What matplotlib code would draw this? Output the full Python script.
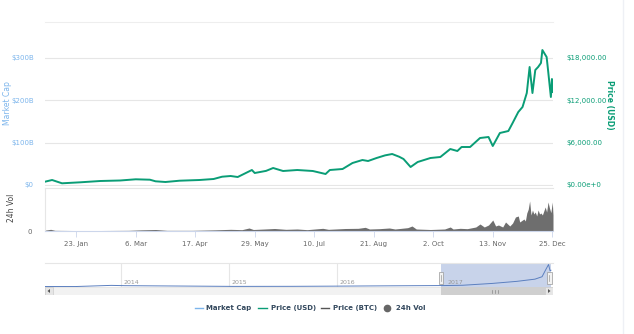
import matplotlib
matplotlib.use("Agg")
import matplotlib.pyplot as plt
from matplotlib.lines import Line2D
from matplotlib.patches import Rectangle, Polygon
import pandas as pd

# --- data --------------------------------------------------------

price_dates = ["2017-01-01", "2017-01-06", "2017-01-13", "2017-01-26", "2017-02-09",
               "2017-02-23", "2017-03-06", "2017-03-16", "2017-03-20", "2017-03-27",
               "2017-04-06", "2017-04-20", "2017-04-30", "2017-05-06", "2017-05-12",
               "2017-05-17", "2017-05-27", "2017-05-29", "2017-06-06", "2017-06-11",
               "2017-06-18", "2017-06-28", "2017-07-09", "2017-07-18", "2017-07-21",
               "2017-07-30", "2017-08-06", "2017-08-13", "2017-08-17", "2017-08-23",
               "2017-08-29", "2017-09-03", "2017-09-08", "2017-09-11", "2017-09-16",
               "2017-09-21", "2017-09-30", "2017-10-07", "2017-10-14", "2017-10-19",
               "2017-10-22", "2017-10-28", "2017-11-04", "2017-11-10", "2017-11-13",
               "2017-11-18", "2017-11-24", "2017-11-27", "2017-12-01", "2017-12-04",
               "2017-12-07", "2017-12-09", "2017-12-11", "2017-12-13", "2017-12-15",
               "2017-12-17", "2017-12-18", "2017-12-21", "2017-12-22", "2017-12-24",
               "2017-12-24 18:00", "2017-12-25 10:00"]
price_usd = [468, 708, 241, 383, 567, 638, 808, 751, 524, 425,
             609, 708, 850, 1176, 1275, 1133, 2125, 1700, 2000, 2409,
             1984, 2125, 1984, 1559, 2125, 2267, 3117, 3542, 3400, 3826,
             4200, 4392, 4000, 3684, 2551, 3259, 3826, 3968, 5101, 4818,
             5385, 5385, 6660, 6802, 5526, 7368, 7652, 8785, 10344, 11053,
             13036, 16721, 13036, 16296, 16721, 17288, 19130, 18138, 16296, 12470,
             15021, 13178]

vol_dates = ["2017-01-01", "2017-01-05", "2017-01-08", "2017-01-20", "2017-02-10",
             "2017-03-01", "2017-03-10", "2017-03-20", "2017-03-28", "2017-04-15",
             "2017-05-01", "2017-05-12", "2017-05-20", "2017-05-25", "2017-05-28",
             "2017-06-05", "2017-06-12", "2017-06-20", "2017-06-28", "2017-07-05",
             "2017-07-16", "2017-07-20", "2017-08-01", "2017-08-10", "2017-08-15",
             "2017-08-18", "2017-08-25", "2017-09-01", "2017-09-05", "2017-09-14",
             "2017-09-17", "2017-09-20", "2017-09-30", "2017-10-10", "2017-10-14",
             "2017-10-16", "2017-10-21", "2017-10-26", "2017-11-01", "2017-11-04",
             "2017-11-07", "2017-11-10", "2017-11-13", "2017-11-15", "2017-11-17",
             "2017-11-20", "2017-11-22", "2017-11-25", "2017-11-27", "2017-11-29",
             "2017-12-01", "2017-12-02", "2017-12-05", "2017-12-06", "2017-12-07",
             "2017-12-08", "2017-12-09", "2017-12-10", "2017-12-11", "2017-12-12",
             "2017-12-13", "2017-12-14", "2017-12-15", "2017-12-16", "2017-12-17",
             "2017-12-18", "2017-12-20", "2017-12-21", "2017-12-22", "2017-12-23",
             "2017-12-24", "2017-12-25", "2017-12-25 12:00"]
vol_usd_b = [0.5, 1.0, 0.4, 0.3, 0.3, 0.4, 0.7, 0.9, 0.4, 0.4,
             0.7, 1.0, 0.8, 1.8, 0.9, 1.2, 1.5, 1.0, 1.2, 0.8,
             1.6, 1.0, 1.5, 1.6, 2.2, 1.2, 1.4, 1.8, 1.2, 2.0,
             3.0, 1.2, 0.9, 1.2, 2.4, 1.2, 1.6, 1.4, 2.4, 4.2,
             2.4, 3.6, 6.6, 3.0, 3.6, 2.4, 5.4, 3.0, 4.8, 8.4,
             9.0, 5.4, 7.2, 6.0, 10.8, 13.0, 18.0, 9.6, 12.6, 10.2,
             11.4, 9.0, 12.6, 10.2, 10.8, 9.6, 14.4, 11.4, 17.4, 13.8,
             11.0, 17.4, 9.6]

nav_dates = ["2013-04-20", "2013-08-01", "2013-11-30", "2014-01-15", "2014-06-01",
             "2015-01-15", "2015-08-01", "2015-12-15", "2016-06-15", "2016-12-31",
             "2017-03-01", "2017-06-10", "2017-09-01", "2017-11-01", "2017-11-25",
             "2017-12-07", "2017-12-17", "2017-12-22", "2017-12-25"]
nav_price = [120, 100, 1100, 850, 620, 230, 280, 430, 700, 960,
             1200, 2800, 4600, 6500, 8600, 14500, 19200, 13800, 14200]

tick_dates = ["2017-01-23", "2017-03-06", "2017-04-17", "2017-05-29", "2017-07-10",
              "2017-08-21", "2017-10-02", "2017-11-13", "2017-12-25"]
tick_labels = ["23. Jan", "6. Mar", "17. Apr", "29. May", "10. Jul",
               "21. Aug", "2. Oct", "13. Nov", "25. Dec"]

price_ticks = [0, 6000, 12000, 18000]
price_tick_labels = ["$0.00e+0", "$6,000.00", "$12,000.00", "$18,000.00"]
cap_ticks = [0, 100, 200, 300]
cap_tick_labels = ["$0", "$100B", "$200B", "$300B"]

years = ["2014", "2015", "2016", "2017"]

# --- style ---------------------------------------------------------

GREEN = "#0a9d76"
BLUE = "#7cb5ec"
NAV_BLUE = "#5b7fbf"
GRID = "#e6e6e6"
GREY_TXT = "#666666"
LEGEND_TXT = "#34495e"

W, H = 634, 334
def fx(px):
    return px / W
def fy(py):
    return 1 - py / H
def dates(lst):
    return pd.to_datetime(lst, format="ISO8601")

plt.rcParams['font.family'] = ['DejaVu Sans']

fig = plt.figure(figsize=(W / 100, H / 100), dpi=100)

x0 = pd.Timestamp("2017-01-01")
x1 = pd.Timestamp("2017-12-25 12:00")

# main price panel
ax = fig.add_axes([fx(45), fy(186), 508 / W, (186 - 22) / H])
ax.plot(dates(price_dates), price_usd, color=GREEN, lw=1.4, zorder=3)
ax.set_xlim(x0, x1)
ax.set_ylim(-142, 23100)
for t in price_ticks:
    ax.axhline(t, color=GRID, lw=0.8, zorder=1)
ax.yaxis.tick_right()
ax.set_yticks(price_ticks)
ax.set_yticklabels(price_tick_labels)
ax.tick_params(axis="y", length=0, pad=10, labelsize=5, labelcolor=GREEN)
ax.set_xticks([])
for s in ["left", "right", "bottom"]:
    ax.spines[s].set_visible(False)
ax.spines["top"].set_color("#eeeeee")
ax.spines["top"].set_linewidth(0.8)

cap = ax.secondary_yaxis("left", functions=(lambda v: v / 60.0, lambda v: v * 60.0))
cap.set_yticks(cap_ticks)
cap.set_yticklabels(cap_tick_labels)
cap.tick_params(length=0, pad=8, labelsize=5, labelcolor=BLUE)
cap.spines["left"].set_visible(False)

fig.text(fx(8), fy(103), "Market Cap", rotation=90, color=BLUE, fontsize=5.5,
         ha="center", va="center")
fig.text(fx(610), fy(105), "Price (USD)", rotation=270, color=GREEN, fontsize=5.5,
         fontweight="bold", ha="center", va="center")

# volume panel
axv = fig.add_axes([fx(45), fy(231), 508 / W, 43 / H])
axv.fill_between(dates(vol_dates), vol_usd_b, 0, color="#6e6e6e", lw=0)
axv.set_xlim(x0, x1)
axv.set_ylim(0, 25.8)
axv.set_yticks([0])
axv.set_yticklabels(["0"])
axv.tick_params(axis="y", length=0, pad=9, labelsize=5, labelcolor=GREY_TXT)
axv.set_xticks(dates(tick_dates))
axv.set_xticklabels(tick_labels)
axv.tick_params(axis="x", length=4, width=0.6, color="#ccd6eb", pad=3,
                labelsize=5, labelcolor=GREY_TXT)
axv.spines["right"].set_visible(False)
for s in ["left", "top"]:
    axv.spines[s].set_color(GRID)
    axv.spines[s].set_linewidth(0.8)
axv.spines["bottom"].set_color("#ccd6eb")
axv.spines["bottom"].set_linewidth(0.8)
fig.text(fx(12), fy(208), "24h Vol", rotation=90, color="#444444", fontsize=5.5,
         ha="center", va="center")

# navigator
nav_x0 = pd.Timestamp("2013-04-20")
nav_x1 = pd.Timestamp("2018-01-01")
axn = fig.add_axes([fx(45), fy(287), 508 / W, 24 / H])
axn.set_xlim(nav_x0, nav_x1)
axn.set_ylim(-300, 20500)
axn.axvspan(pd.Timestamp("2016-12-18"), pd.Timestamp("2017-12-24"),
            color="#c8d3ea", lw=0, zorder=1)
for y in years:
    yt = pd.Timestamp(y + "-01-01")
    axn.axvline(yt, color=GRID, lw=0.8, zorder=0)
    axn.text(yt + pd.Timedelta(days=8), 1500, y, fontsize=4.5, color="#999999",
             ha="left", va="bottom", zorder=2)
axn.plot(dates(nav_dates), nav_price, color=NAV_BLUE, lw=0.7, zorder=3)
axn.set_xticks([])
axn.set_yticks([])
for s in ["left", "right", "bottom"]:
    axn.spines[s].set_visible(False)
axn.spines["top"].set_color(GRID)
axn.spines["top"].set_linewidth(0.8)

# navigator handles
for hx in [441, 549]:
    fig.add_artist(Rectangle((fx(hx - 2.5), fy(284)), 5 / W, 12 / H,
                             facecolor="#f2f2f2", edgecolor="#999999", lw=0.5))
    fig.add_artist(Line2D([fx(hx), fx(hx)], [fy(281), fy(275)], color="#999999", lw=0.5))

# scrollbar
axs = fig.add_axes([fx(45), fy(295), 508 / W, 8 / H])
axs.set_xlim(0, 508)
axs.set_ylim(0, 8)
axs.add_patch(Rectangle((0, 0), 508, 8, facecolor="#f2f2f2", edgecolor="#e0e0e0", lw=0.5))
axs.add_patch(Rectangle((396, 0), 108, 8, facecolor="#cfcfcf", lw=0))
for gx in [447, 450, 453]:
    axs.plot([gx, gx], [2.5, 5.5], color="#888888", lw=0.5)
axs.add_patch(Rectangle((0, 0), 8, 8, facecolor="#e6e6e6", edgecolor="#cccccc", lw=0.5))
axs.add_patch(Rectangle((500, 0), 8, 8, facecolor="#e6e6e6", edgecolor="#cccccc", lw=0.5))
axs.add_patch(Polygon([[5, 2], [5, 6], [2.5, 4]], closed=True, color="#555555", lw=0))
axs.add_patch(Polygon([[503, 2], [503, 6], [505.5, 4]], closed=True, color="#555555", lw=0))
axs.axis("off")

# page border on the right
fig.add_artist(Line2D([fx(623), fx(623)], [fy(0), fy(334)], color="#eef0f5", lw=1.0))

# legend
ly = fy(308)
legend_items = [
    (195, 203, BLUE, "Market Cap", 206),
    (258, 267, GREEN, "Price (USD)", 271),
    (321, 329, "#555555", "Price (BTC)", 333),
]
for lx0, lx1, col, label, tx in legend_items:
    fig.add_artist(Line2D([fx(lx0), fx(lx1)], [ly, ly], color=col, lw=1.0))
    fig.text(fx(tx), ly, label, fontsize=5, fontweight="bold", color=LEGEND_TXT,
             ha="left", va="center")
fig.add_artist(Line2D([fx(387)], [ly], marker="o", markersize=4.5, color="#666666", lw=0))
fig.text(fx(396), ly, "24h Vol", fontsize=5, fontweight="bold", color=LEGEND_TXT,
         ha="left", va="center")

fig.savefig("out.png", dpi=100, facecolor="white")
